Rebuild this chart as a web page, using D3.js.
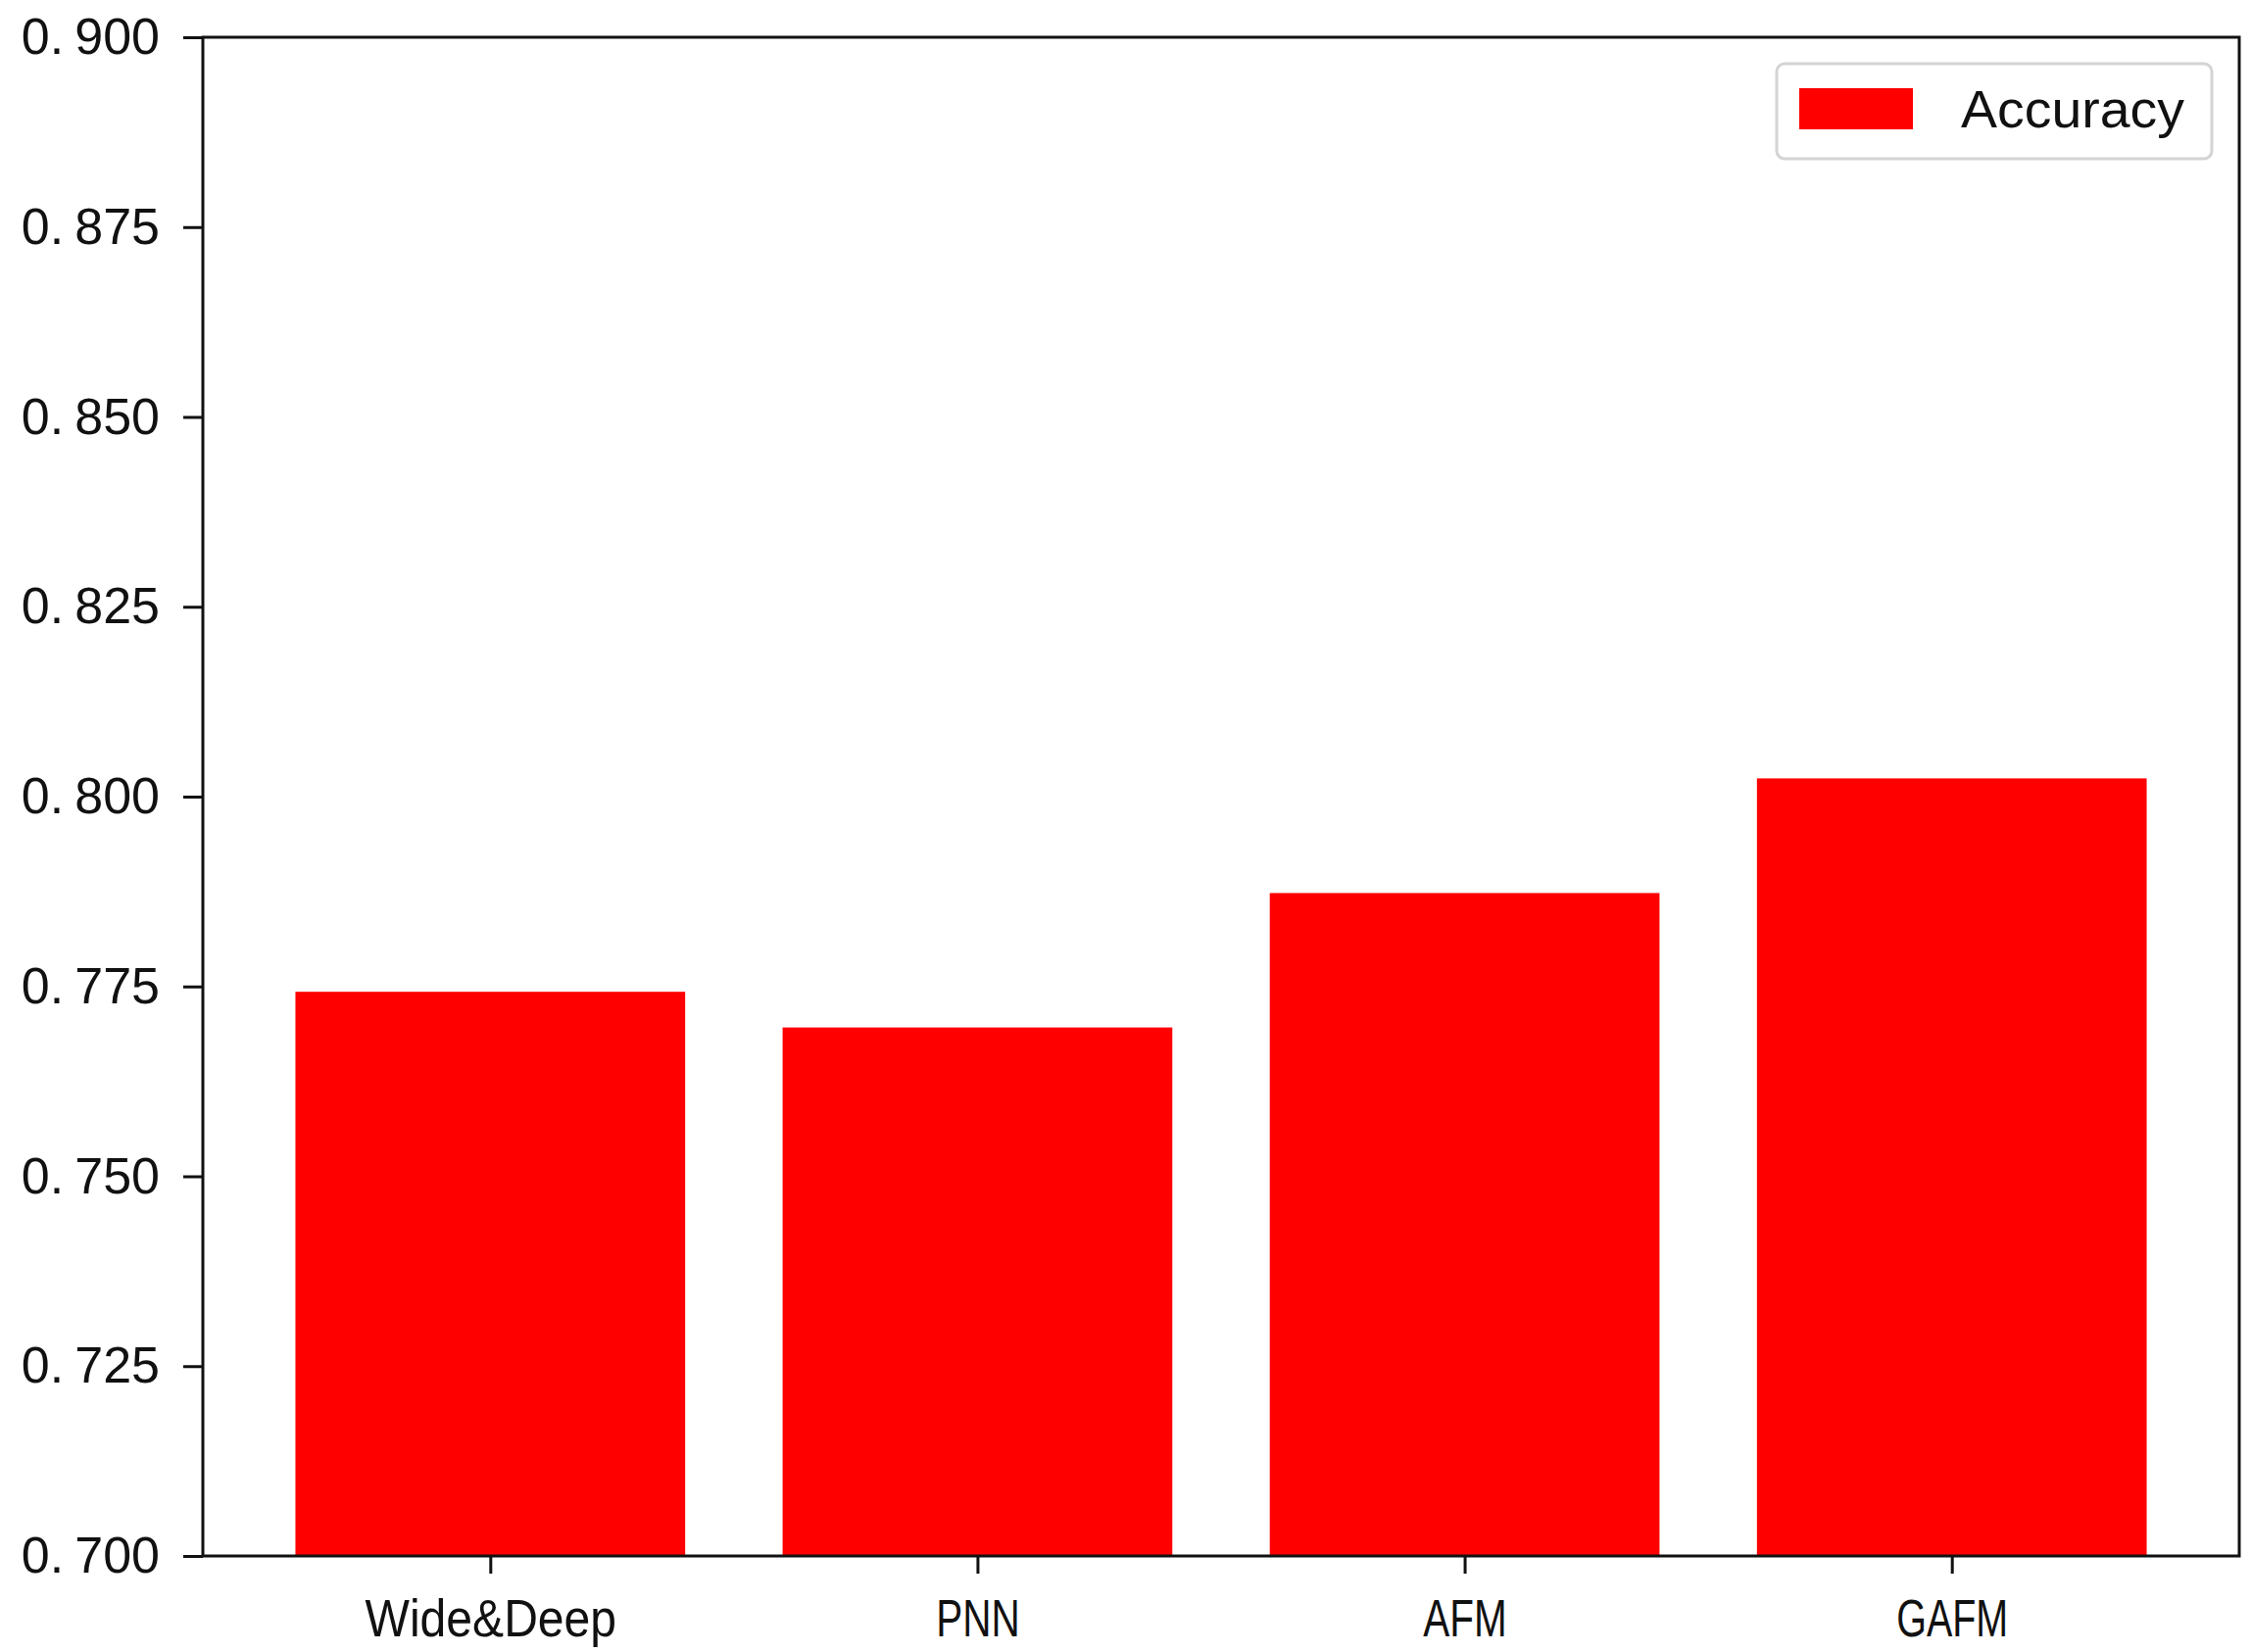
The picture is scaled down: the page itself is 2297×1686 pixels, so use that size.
<!DOCTYPE html>
<html lang="en">
    <head>
        <meta charset="UTF-8">
        <title>Accuracy Bar Chart</title>
        <script src="https://d3js.org/d3.v7.min.js"></script>
        <style>
            body {
                margin: 0;
                background-color: white;
            }
            text {
                font-family: 'Liberation Sans', Arial, sans-serif;
                fill: #111;
            }
        </style>
    </head>
    <body>
        <svg id="chart" width="2297" height="1686"></svg>
        <script>
            // data
            let models = ['Wide&Deep', 'PNN', 'AFM', 'GAFM']
            let accuracy = [0.7743, 0.7696, 0.7873, 0.8024]
            let yTicks = [0.700, 0.725, 0.750, 0.775, 0.800, 0.825, 0.850, 0.875, 0.900]
            let seriesName = 'Accuracy'

            let width = 2297
            let height = 1686
            let margin = {top: 38, right: 12, bottom: 98, left: 207}
            let barWidth = 0.8
            let cell = 28.5   // half-width glyph cell of the original font

            let svg = d3.select('#chart')

            // bars sit at 0..n-1 with 5% padding either side
            let lo = -barWidth / 2, hi = models.length - 1 + barWidth / 2
            let pad = (hi - lo) * 0.05
            let x = d3.scaleLinear()
                .domain([lo - pad, hi + pad])
                .range([margin.left, width - margin.right])
            let y = d3.scaleLinear()
                .domain([0.7, 0.9])
                .range([height - margin.bottom, margin.top])

            svg.append('g')
                .selectAll('rect')
                .data(accuracy)
                .enter()
                .append('rect')
                .attr('x', (d, i) => x(i - barWidth / 2))
                .attr('width', (d, i) => x(i + barWidth / 2) - x(i - barWidth / 2))
                .attr('y', d => y(d))
                .attr('height', d => y(0.7) - y(d))
                .attr('fill', '#ff0000')

            // frame
            svg.append('rect')
                .attr('x', margin.left)
                .attr('y', margin.top)
                .attr('width', width - margin.right - margin.left)
                .attr('height', height - margin.bottom - margin.top)
                .attr('fill', 'none')
                .attr('stroke', '#111')
                .attr('stroke-width', 3)

            let xAxis = svg.append('g')
                .attr('transform', `translate(0, ${height - margin.bottom})`)
                .call(d3.axisBottom(x)
                    .tickValues(d3.range(models.length))
                    .tickFormat(i => models[i])
                    .tickSize(18)
                    .tickPadding(26))
            xAxis.select('.domain').remove()
            xAxis.selectAll('.tick line').attr('stroke', '#111').attr('stroke-width', 3)
            xAxis.selectAll('.tick text')
                .attr('font-size', 54)
                .attr('font-family', null)
                .attr('textLength', i => models[i].length * cell)
                .attr('lengthAdjust', 'spacingAndGlyphs')

            let yAxis = svg.append('g')
                .attr('transform', `translate(${margin.left}, 0)`)
                .call(d3.axisLeft(y)
                    .tickValues(yTicks)
                    .tickFormat(d3.format('.3f'))
                    .tickSize(20)
                    .tickPadding(24))
            yAxis.select('.domain').remove()
            yAxis.selectAll('.tick line').attr('stroke', '#111').attr('stroke-width', 3)
            yAxis.selectAll('.tick text')
                .attr('font-size', 52)
                .attr('font-family', null)
                .each(function (d) {
                    let s = d3.format('.3f')(d)
                    let t = d3.select(this).text(null)
                    t.append('tspan').text(s.slice(0, 2))
                    t.append('tspan').attr('dx', 11).text(s.slice(2))
                })

            // legend
            let legend = svg.append('g').attr('transform', 'translate(1813, 65)')
            legend.append('rect')
                .attr('width', 444)
                .attr('height', 97)
                .attr('rx', 8)
                .attr('fill', 'white')
                .attr('stroke', '#d4d4d4')
                .attr('stroke-width', 3)
            legend.append('rect')
                .attr('x', 23)
                .attr('y', 25)
                .attr('width', 116)
                .attr('height', 42)
                .attr('fill', '#ff0000')
            legend.append('text')
                .attr('x', 188)
                .attr('y', 65)
                .attr('font-size', 54)
                .attr('textLength', seriesName.length * cell)
                .attr('lengthAdjust', 'spacingAndGlyphs')
                .text(seriesName)
        </script>
    </body>
</html>
